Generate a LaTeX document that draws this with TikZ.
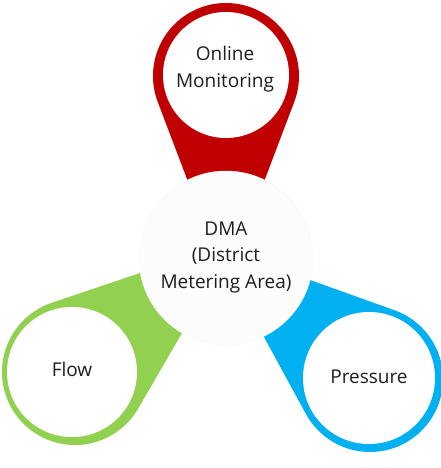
\documentclass[tikz,border=0pt]{standalone}
\usepackage{fontspec}
\setmainfont{Open Sans}
\usetikzlibrary{calc}
\definecolor{pinred}{HTML}{C00000}
\definecolor{pingreen}{HTML}{92D050}
\definecolor{pinblue}{HTML}{00B0F0}
\definecolor{txtcol}{HTML}{1E1E1E}
\tikzset{
  innercirc/.style={circle, fill=white, inner sep=0pt, outer sep=0pt},
  hubcirc/.style={circle, fill=black!1, draw=black!3, inner sep=0pt, outer sep=0pt, minimum size=174pt},
  lbl/.style={align=center, text=txtcol, inner sep=0pt, font=\fontsize{19}{26.5}\selectfont}
}
\begin{document}
\begin{tikzpicture}[x=1pt, y=1pt]
  \useasboundingbox (0,0) rectangle (440,468);
  \fill[white] (0,0) rectangle (440,468);
  % ---- red pin (Online Monitoring)
  \coordinate (rP1) at (187,289);
  \coordinate (rT1) at (157.74,366.11);
  \coordinate (rP2) at (265,289);
  \coordinate (rT2) at (294.26,366.11);
  \fill[pinred] ($(rT1)!1.12!(rP1)$) -- (rT1)
     arc[start angle=200.77, end angle=-20.77, radius=73]
     -- ($(rT2)!1.12!(rP2)$) -- cycle;
  % ---- green pin (Flow)
  \coordinate (gP1) at (140,195);
  \coordinate (gT1) at (51.66,165.17);
  \coordinate (gP2) at (182,135);
  \coordinate (gT2) at (138.15,59.38);
  \fill[pingreen] ($(gT2)!1.12!(gP2)$) -- (gT2)
     arc[start angle=-30.11, end angle=-251.35, radius=73]
     -- ($(gT1)!1.12!(gP1)$) -- cycle;
  % ---- blue pin (Pressure)
  \coordinate (bP1) at (310,188);
  \coordinate (bT1) at (394.58,157.74);
  \coordinate (bP2) at (264,131);
  \coordinate (bT2) at (305.88,54.10);
  \fill[pinblue] ($(bT1)!1.12!(bP1)$) -- (bT1)
     arc[start angle=70.32, end angle=-151.44, radius=73]
     -- ($(bT2)!1.12!(bP2)$) -- cycle;
  % inner circles
  \node[innercirc, minimum size=126pt] (mon) at (226,393) {};
  \node[innercirc, minimum size=130pt] (flow) at (72,96) {};
  \node[innercirc, minimum size=132pt] (pres) at (369,90) {};
  % hub
  \node[hubcirc] (dma) at (226,210) {};
  % labels
  \node[lbl] (monlbl) at (225,399) {Online\\Monitoring};
  \node[lbl] (dmalbl) at (226,211) {DMA\\(District\\Metering Area)};
  \node[lbl] (flowlbl) at (72,98.5) {Flow};
  \node[lbl] (preslbl) at (369,91) {Pressure};
\end{tikzpicture}
\end{document}
